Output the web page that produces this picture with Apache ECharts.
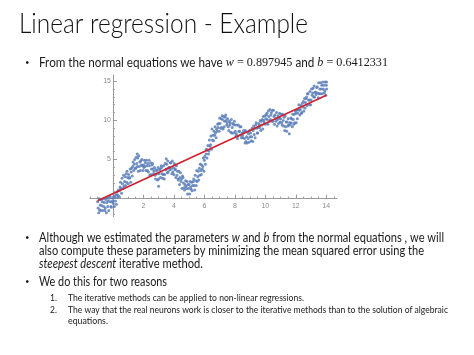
<!DOCTYPE html>
<html><head><meta charset="utf-8">
<script src="https://cdn.jsdelivr.net/npm/echarts@6/dist/echarts.min.js"></script>
<style>html,body{margin:0;padding:0;background:#fff}#c{width:474px;height:355px}</style>
</head><body><div id="c"></div>
<script>
// Sample points (x, y)
const samples = [
[-1.0,-0.4],[-0.97,-1.2],[-0.93,-1.8],[-0.9,0.0],[-0.87,-1.4],[-0.83,-0.8],[-0.8,-1.5],[-0.77,-0.1],[-0.73,-0.9],
[-0.7,-0.4],[-0.67,-1.5],[-0.63,0.0],[-0.6,-1.0],[-0.57,-0.5],[-0.53,-1.5],[-0.5,-1.2],[-0.47,-0.1],[-0.43,-1.8],
[-0.4,-0.5],[-0.37,0.1],[-0.33,-1.0],[-0.3,-0.3],[-0.27,-1.5],[-0.23,0.1],[-0.2,0.3],[-0.17,-0.4],[-0.13,-1.0],
[-0.1,-1.1],[-0.07,-0.4],[-0.03,0.1],[0.0,-0.3],[0.03,-0.6],[0.07,0.3],[0.1,-1.0],[0.13,0.2],[0.17,-0.3],
[0.2,0.5],[0.23,-0.7],[0.27,0.9],[0.3,0.5],[0.33,0.2],[0.37,1.1],[0.4,0.3],[0.43,1.0],[0.47,1.5],
[0.5,2.1],[0.53,1.3],[0.57,0.7],[0.6,2.6],[0.63,1.9],[0.67,1.3],[0.7,3.0],[0.73,1.6],[0.77,2.2],
[0.8,2.8],[0.83,1.7],[0.87,3.2],[0.9,2.1],[0.93,3.5],[0.97,2.7],[1.0,1.9],[1.03,3.1],[1.07,2.6],
[1.1,2.7],[1.13,3.8],[1.17,2.1],[1.2,3.4],[1.23,3.9],[1.27,2.9],[1.3,4.1],[1.33,4.7],[1.37,3.6],
[1.4,4.4],[1.43,5.0],[1.47,3.9],[1.5,3.9],[1.53,5.3],[1.57,4.5],[1.6,4.1],[1.63,5.2],[1.67,3.5],
[1.7,5.5],[1.73,4.1],[1.77,4.7],[1.8,3.6],[1.83,4.8],[1.87,4.3],[1.9,5.0],[1.93,4.2],[1.97,3.6],
[2.0,4.3],[2.03,4.0],[2.07,4.9],[2.1,4.1],[2.13,4.6],[2.17,3.6],[2.2,4.9],[2.23,4.2],[2.27,3.6],
[2.3,4.5],[2.33,3.4],[2.37,4.9],[2.4,4.2],[2.43,3.0],[2.47,4.6],[2.5,3.1],[2.53,3.8],[2.57,4.3],
[2.6,4.5],[2.63,3.8],[2.67,3.2],[2.7,3.5],[2.73,4.0],[2.77,3.0],[2.8,2.5],[2.83,3.7],[2.87,3.2],
[2.9,3.6],[2.93,2.4],[2.97,4.0],[3.0,2.5],[3.03,3.2],[3.07,3.7],[3.1,3.8],[3.13,2.7],[3.17,4.2],
[3.2,4.0],[3.23,3.2],[3.27,2.6],[3.3,3.1],[3.33,4.2],[3.37,2.5],[3.4,3.1],[3.43,4.5],[3.47,3.7],
[3.5,3.8],[3.53,4.4],[3.57,3.3],[3.6,4.8],[3.63,3.4],[3.67,4.0],[3.7,4.0],[3.73,3.7],[3.77,4.6],
[3.8,4.6],[3.83,3.8],[3.87,3.2],[3.9,4.8],[3.93,3.4],[3.97,4.0],[4.0,3.1],[4.03,4.5],[4.07,3.7],
[4.1,3.8],[4.13,2.7],[4.17,4.2],[4.2,3.0],[4.23,3.5],[4.27,2.5],[4.3,2.4],[4.33,3.5],[4.37,1.8],
[4.4,2.7],[4.43,3.3],[4.47,2.2],[4.5,2.5],[4.53,1.3],[4.57,2.9],[4.6,2.7],[4.63,2.0],[4.67,1.4],
[4.7,1.1],[4.73,1.8],[4.77,2.3],[4.8,1.6],[4.83,1.3],[4.87,2.2],[4.9,0.6],[4.93,1.8],[4.97,1.3],
[5.0,1.8],[5.03,0.6],[5.07,2.2],[5.1,1.5],[5.13,1.2],[5.17,2.1],[5.2,1.0],[5.23,1.7],[5.27,2.2],
[5.3,2.5],[5.33,1.7],[5.37,1.1],[5.4,3.0],[5.43,2.3],[5.47,1.7],[5.5,3.6],[5.53,2.2],[5.57,2.8],
[5.6,3.5],[5.63,2.4],[5.67,3.9],[5.7,3.0],[5.73,4.4],[5.77,3.6],[5.8,3.1],[5.83,4.3],[5.87,3.8],
[5.9,4.1],[5.93,5.2],[5.97,3.5],[6.0,4.9],[6.03,5.4],[6.07,4.4],[6.1,5.7],[6.13,6.3],[6.17,5.2],
[6.2,6.2],[6.23,6.8],[6.27,5.7],[6.3,6.1],[6.33,7.5],[6.37,6.7],[6.4,6.9],[6.43,8.0],[6.47,6.3],
[6.5,8.9],[6.53,7.5],[6.57,8.1],[6.6,7.4],[6.63,8.6],[6.67,8.1],[6.7,9.2],[6.73,8.4],[6.77,7.8],
[6.8,8.9],[6.83,8.6],[6.87,9.5],[6.9,9.1],[6.93,9.6],[6.97,8.6],[7.0,10.3],[7.03,9.6],[7.07,9.0],
[7.1,10.2],[7.13,9.1],[7.17,10.6],[7.2,10.1],[7.23,8.9],[7.27,10.5],[7.3,9.2],[7.33,9.9],[7.37,10.4],
[7.4,10.7],[7.43,10.0],[7.47,9.4],[7.5,9.7],[7.53,10.2],[7.57,9.2],[7.6,8.7],[7.63,9.9],[7.67,9.4],
[7.7,9.7],[7.73,8.5],[7.77,10.1],[7.8,8.4],[7.83,9.1],[7.87,9.6],[7.9,9.5],[7.93,8.4],[7.97,9.9],
[8.0,9.4],[8.03,8.6],[8.07,8.0],[8.1,8.3],[8.13,9.4],[8.17,7.7],[8.2,8.0],[8.23,9.4],[8.27,8.6],
[8.3,8.6],[8.33,9.2],[8.37,8.1],[8.4,9.2],[8.43,7.8],[8.47,8.4],[8.5,8.1],[8.53,7.8],[8.57,8.7],
[8.6,8.5],[8.63,7.7],[8.67,7.1],[8.7,8.7],[8.73,7.3],[8.77,7.9],[8.8,7.1],[8.83,8.5],[8.87,7.7],
[8.9,8.3],[8.93,7.2],[8.97,8.7],[9.0,7.9],[9.03,8.4],[9.07,7.4],[9.1,7.9],[9.13,9.0],[9.17,7.3],
[9.2,8.7],[9.23,9.3],[9.27,8.2],[9.3,9.0],[9.33,7.8],[9.37,9.4],[9.4,9.7],[9.43,9.0],[9.47,8.4],
[9.5,8.4],[9.53,9.1],[9.57,9.6],[9.6,9.4],[9.63,9.1],[9.67,10.0],[9.7,8.7],[9.73,9.9],[9.77,9.4],
[9.8,10.1],[9.83,8.9],[9.87,10.5],[9.9,10.0],[9.93,9.7],[9.97,10.6],[10.0,9.5],[10.03,10.2],[10.07,10.7],
[10.1,10.9],[10.13,10.1],[10.17,9.5],[10.2,11.2],[10.23,10.5],[10.27,9.9],[10.3,11.4],[10.33,10.1],[10.37,10.7],
[10.4,11.0],[10.43,9.9],[10.47,11.3],[10.5,9.9],[10.53,11.3],[10.57,10.5],[10.6,9.5],[10.63,10.7],[10.67,10.2],
[10.7,9.9],[10.73,11.0],[10.77,9.3],[10.8,10.1],[10.83,10.6],[10.87,9.6],[10.9,10.3],[10.93,10.9],[10.97,9.8],
[11.0,10.2],[11.03,10.8],[11.07,9.7],[11.1,9.4],[11.13,10.8],[11.17,10.0],[11.2,9.3],[11.23,10.4],[11.27,8.7],
[11.3,10.6],[11.33,9.2],[11.37,9.8],[11.4,8.6],[11.43,9.8],[11.47,9.3],[11.5,10.2],[11.53,9.4],[11.57,8.3],
[11.6,9.7],[11.63,9.4],[11.67,10.3],[11.7,9.7],[11.73,10.2],[11.77,9.2],[11.8,10.8],[11.83,10.1],[11.87,9.5],
[11.9,10.8],[11.93,9.7],[11.97,11.2],[12.0,10.9],[12.03,9.7],[12.07,11.3],[12.1,10.2],[12.13,10.9],[12.17,11.4],
[12.2,12.0],[12.23,11.3],[12.27,10.7],[12.3,11.4],[12.33,11.9],[12.37,10.9],[12.4,11.0],[12.43,12.2],[12.47,11.7],
[12.5,12.4],[12.53,11.2],[12.57,12.8],[12.6,11.6],[12.63,12.3],[12.67,12.8],[12.7,13.0],[12.73,11.9],[12.77,13.4],
[12.8,13.4],[12.83,12.6],[12.87,12.0],[12.9,12.6],[12.93,13.7],[12.97,12.0],[13.0,12.6],[13.03,14.0],[13.07,13.2],
[13.1,13.5],[13.13,14.1],[13.17,13.0],[13.2,14.4],[13.23,13.0],[13.27,13.6],[13.3,13.6],[13.33,13.3],[13.37,14.2],
[13.4,14.3],[13.43,13.5],[13.47,12.9],[13.5,14.8],[13.53,13.4],[13.57,14.0],[13.6,13.4],[13.63,14.8],[13.67,14.0],
[13.7,14.5],[13.73,13.4],[13.77,14.9],[13.8,14.0],[13.83,14.5],[13.87,13.5],[13.9,13.8],[13.93,14.9],[13.97,13.2],
[14.0,14.5],[14.01,14.9],[14.02,14.0],
[1.6,5.7],[3.0,1.6],[3.5,5.1]
];
// Regression line y = 0.897945 x + 0.6412331, endpoints
const fitX = [-1, 14];
const fitY = [-0.26, 13.21];
// Tick labels / positions
const xMajor = [2, 4, 6, 8, 10, 12, 14];
const xMinor = [-1.5,-1,-0.5,0.5,1,1.5,2.5,3,3.5,4.5,5,5.5,6.5,7,7.5,8.5,9,9.5,10.5,11,11.5,12.5,13,13.5,14.5];
const yMajor = [5, 10, 15];
const yMinor = [-2,-1,1,2,3,4,6,7,8,9,11,12,13,14];

// Slide text
const titleText = 'Linear regression - Example';
const bullet1 = [['From the normal equations we have ', 'b'], ['w', 'mi'], [' = 0.897945 ', 'mn'], ['and ', 'b'], ['b', 'mi'], [' = 0.6412331', 'mn']];
const bullet2 = [
  [['Although we estimated the parameters ', 'b'], ['w', 'bi'], [' and ', 'b'], ['b', 'bi'], [' from the normal equations , we will', 'b']],
  [['also compute these parameters by minimizing the mean squared error using the', 'b']],
  [['steepest descent', 'bi'], [' iterative method.', 'b']]
];
const bullet3 = [['We do this for two reasons', 'b']];
const items = [
  ['1.', 'The iterative methods can be applied to non-linear regressions.'],
  ['2.', 'The way that the real neurons work is closer to the iterative methods than to the solution of algebraic'],
  ['', 'equations.']
];

const fonts = {
  t: {fontSize: 28, fontFamily: 'Lato', fontWeight: 300, fontStyle: 'normal'},
  b: {fontSize: 12.5, fontFamily: 'Lato', fontWeight: 400, fontStyle: 'normal'},
  bi: {fontSize: 12.5, fontFamily: 'Lato', fontWeight: 400, fontStyle: 'italic'},
  mi: {fontSize: 13, fontFamily: 'Liberation Serif', fontWeight: 400, fontStyle: 'italic'},
  mn: {fontSize: 13, fontFamily: 'Liberation Serif', fontWeight: 400, fontStyle: 'normal'},
  s: {fontSize: 8.5, fontFamily: 'Lato', fontWeight: 400, fontStyle: 'normal'}
};
const txt = '#1a1a1a';
const mctx = document.createElement('canvas').getContext('2d');
function measure(segs) {
  let w = 0;
  segs.forEach(([t, k]) => { const f = fonts[k]; mctx.font = `${f.fontStyle} ${f.fontWeight} ${f.fontSize}px ${f.fontFamily}`; w += mctx.measureText(t).width; });
  return w;
}
function line(segs, x, y, right, color) {
  const rich = {};
  let text = '';
  segs.forEach(([t, k], i) => { rich['s' + i] = Object.assign({fill: color || txt}, fonts[k]); text += `{s${i}|${t}}`; });
  const sx = right ? (right - x) / measure(segs) : 1;
  return {type: 'text', x: x, y: y, scaleX: sx, style: {text: text, rich: rich, verticalAlign: 'middle', fill: color || txt}};
}
function dot(y) {
  return {type: 'text', x: 25.5, y: y, style: {text: '•', fontSize: 10, fontFamily: 'Liberation Sans', fill: txt, verticalAlign: 'middle'}};
}

const graphics = [
  line([[titleText, 't']], 19, 24, 308, '#111'),
  dot(63), line(bullet1, 39, 63, 388),
  dot(238), line(bullet2[0], 39, 238, 444), line(bullet2[1], 39, 250.8, 424), line(bullet2[2], 39, 263.5, 203),
  dot(282), line(bullet3, 39, 282, 167),
  line([[items[0][0], 's']], 50, 298), line([[items[0][1], 's']], 68, 298, 304),
  line([[items[1][0], 's']], 50, 310.5), line([[items[1][1], 's']], 68, 310.5, 448),
  line([[items[2][1], 's']], 68, 321, 108)
];

const chart = echarts.init(document.getElementById('c'), null, {renderer: 'canvas'});
const axisGray = '#9a9a9a';
const labelFont = {fontSize: 7, color: '#8a8a8a', fontFamily: 'Liberation Sans'};
const xRange = {min: -1.5, max: 14.7};
const yRange = {min: -2.3, max: 15.8};

chart.setOption({
  animation: false,
  backgroundColor: '#fff',
  grid: {left: 90, right: 137, top: 75, bottom: 138.3, containLabel: false, outerBoundsMode: 'none'},
  xAxis: [
    Object.assign({type: 'value', splitLine: {show: false},
      axisLine: {onZero: true, lineStyle: {color: axisGray, width: 1}},
      axisTick: {inside: true, length: 4, customValues: xMajor, lineStyle: {color: axisGray}},
      axisLabel: Object.assign({customValues: xMajor, margin: -13.7}, labelFont)}, xRange),
    Object.assign({type: 'value', position: 'bottom', splitLine: {show: false},
      axisLine: {show: false, onZero: true},
      axisTick: {inside: true, length: 2, customValues: xMinor, lineStyle: {color: axisGray}},
      axisLabel: {show: false}}, xRange)
  ],
  yAxis: [
    Object.assign({type: 'value', splitLine: {show: false},
      axisLine: {onZero: true, lineStyle: {color: axisGray, width: 1}},
      axisTick: {inside: true, length: 4, customValues: yMajor, lineStyle: {color: axisGray}},
      axisLabel: Object.assign({customValues: yMajor, margin: -21}, labelFont)}, yRange),
    Object.assign({type: 'value', position: 'left', splitLine: {show: false},
      axisLine: {show: false, onZero: true},
      axisTick: {inside: true, length: 2, customValues: yMinor, lineStyle: {color: axisGray}},
      axisLabel: {show: false}}, yRange)
  ],
  series: [
    {type: 'scatter', xAxisIndex: 0, yAxisIndex: 0, data: samples, symbolSize: 3,
      itemStyle: {color: '#5a7fb8', opacity: 0.85}, z: 2},
    {type: 'line', xAxisIndex: 0, yAxisIndex: 0, data: fitX.map((x, i) => [x, fitY[i]]),
      showSymbol: false, symbol: 'none', lineStyle: {color: '#d0202e', width: 1.6}, z: 3}
  ],
  graphic: graphics
});
</script></body></html>
